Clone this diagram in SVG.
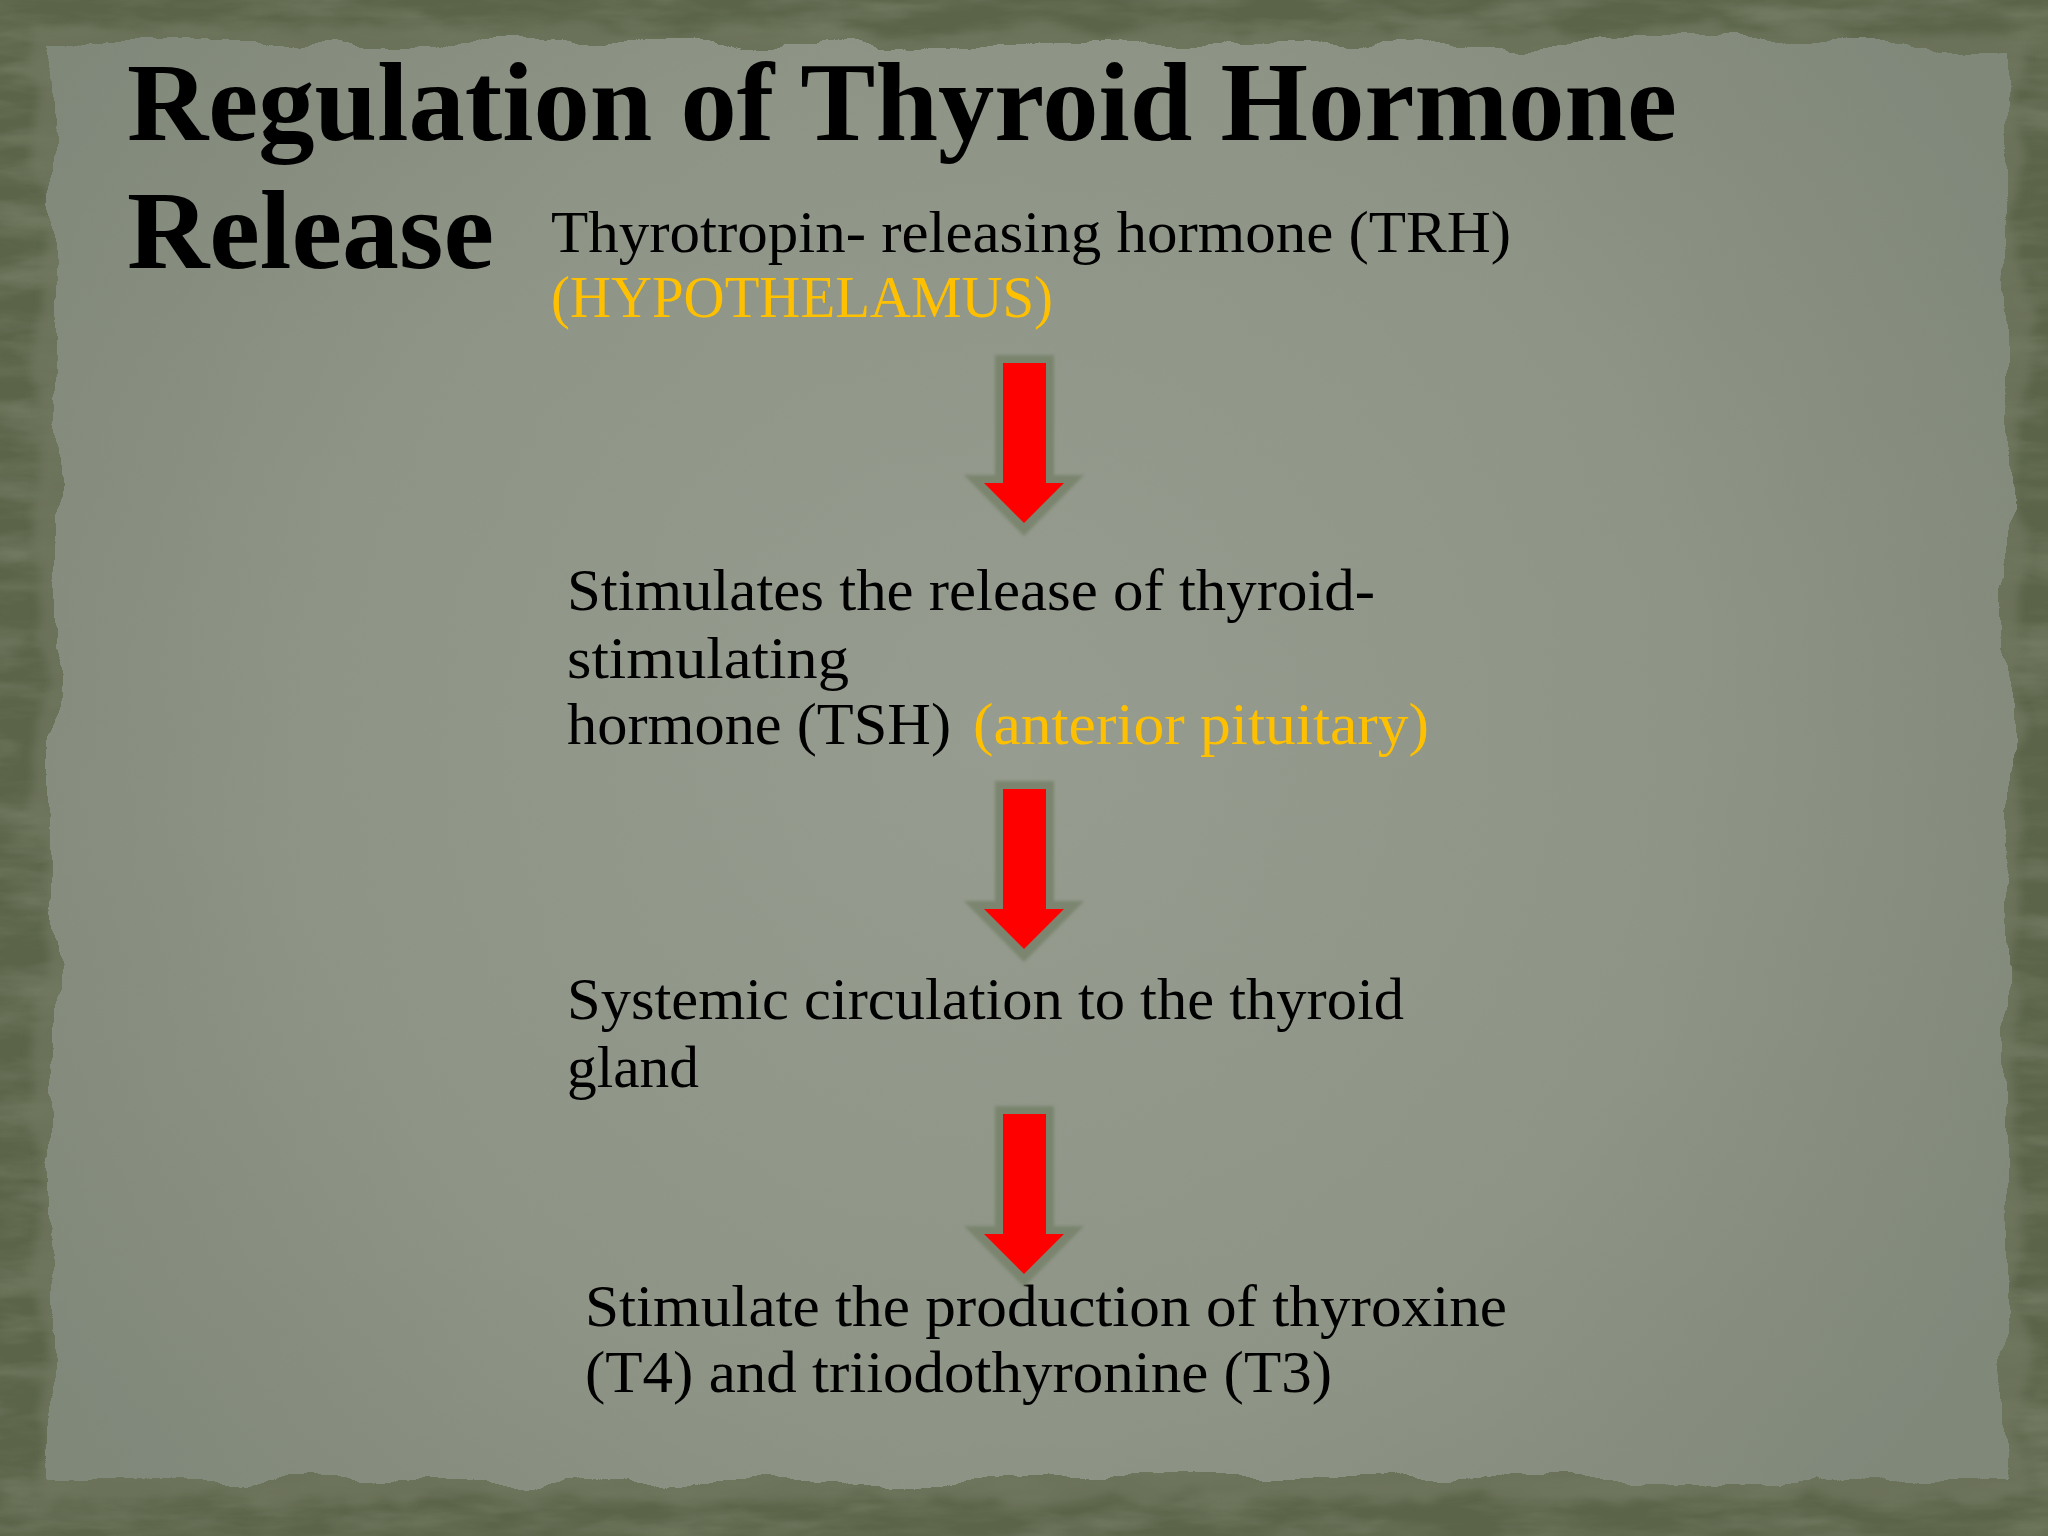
<svg xmlns="http://www.w3.org/2000/svg" width="2048" height="1536" viewBox="0 0 2048 1536">
<style>
.title{font-family:"Liberation Serif","DejaVu Serif",serif;font-weight:bold;font-size:112px;fill:#000}
.body{font-family:"Liberation Serif","DejaVu Serif",serif;font-size:60px;fill:#000}
.gold{fill:#ffc000}
.red{fill:#ff0000}
.glow{fill:#77826a;opacity:0.85}
</style>
<defs>
<filter id="torn" x="-3%" y="-3%" width="106%" height="106%">
<feTurbulence type="fractalNoise" baseFrequency="0.009" numOctaves="5" seed="4" result="n"/>
<feDisplacementMap in="SourceGraphic" in2="n" scale="36" xChannelSelector="R" yChannelSelector="G"/>
</filter>
<filter id="torn2" x="-3%" y="-3%" width="106%" height="106%">
<feTurbulence type="fractalNoise" baseFrequency="0.012" numOctaves="5" seed="11" result="n"/>
<feDisplacementMap in="SourceGraphic" in2="n" scale="44" xChannelSelector="R" yChannelSelector="G" result="d"/>
<feGaussianBlur in="d" stdDeviation="4"/>
</filter>
<filter id="grainDark" x="0" y="0" width="100%" height="100%">
<feTurbulence type="fractalNoise" baseFrequency="0.01 0.05" numOctaves="4" seed="2"/>
<feColorMatrix type="matrix" values="0 0 0 0 0.22  0 0 0 0 0.25  0 0 0 0 0.16  1.6 0 0 0 -0.7"/>
</filter>
<filter id="grainLight" x="0" y="0" width="100%" height="100%">
<feTurbulence type="fractalNoise" baseFrequency="0.008 0.03" numOctaves="4" seed="9"/>
<feColorMatrix type="matrix" values="0 0 0 0 0.43  0 0 0 0 0.46  0 0 0 0 0.37  0 1.4 0 0 -0.65"/>
</filter>
<filter id="blur1"><feGaussianBlur stdDeviation="1.5"/></filter>
<radialGradient id="paperGrad" cx="1000" cy="740" r="1150" gradientUnits="userSpaceOnUse">
<stop offset="0" stop-color="#969c8f"/>
<stop offset="0.6" stop-color="#8e9486"/>
<stop offset="1" stop-color="#80887a"/>
</radialGradient>
<g id="arrowShape">
<polygon class="glow" filter="url(#blur1)" points="995,-8 1054,-8 1054,112 1084,112 1024,173 964,112 995,112"/>
<polygon class="red" points="1003,0 1046,0 1046,120 1064,120 1024,160 984,120 1003,120"/>
</g>
</defs>

<g id="background">
<rect x="0" y="0" width="2048" height="1536" fill="#5b6449"/>
<rect x="0" y="0" width="2048" height="1536" filter="url(#grainLight)" opacity="0.45"/>
<rect x="0" y="0" width="2048" height="1536" filter="url(#grainDark)" opacity="0.45"/>
<rect x="40" y="30" width="1980" height="1470" fill="#6f775f" filter="url(#torn2)" opacity="0.75"/>
<rect x="52" y="44" width="1955" height="1436" fill="url(#paperGrad)" filter="url(#torn)"/>
</g>

<g id="title">
<text class="title" x="127" y="140" textLength="1550" lengthAdjust="spacingAndGlyphs">Regulation of Thyroid Hormone</text>
<text class="title" x="127" y="268" textLength="367" lengthAdjust="spacingAndGlyphs">Release</text>
</g>

<g id="node-trh">
<text class="body" x="551" y="252" textLength="960" lengthAdjust="spacingAndGlyphs">Thyrotropin- releasing hormone (TRH)</text>
<text class="body gold" x="551" y="317" textLength="502" lengthAdjust="spacingAndGlyphs">(HYPOTHELAMUS)</text>
</g>

<g id="node-tsh">
<text class="body" x="567" y="610" textLength="808" lengthAdjust="spacingAndGlyphs">Stimulates the release of thyroid-</text>
<text class="body" x="567" y="678" textLength="282" lengthAdjust="spacingAndGlyphs">stimulating</text>
<text class="body" x="567" y="744" textLength="384" lengthAdjust="spacingAndGlyphs">hormone (TSH)</text>
<text class="body gold" x="973" y="744" textLength="456" lengthAdjust="spacingAndGlyphs">(anterior pituitary)</text>
</g>

<g id="node-circulation">
<text class="body" x="567" y="1019" textLength="837" lengthAdjust="spacingAndGlyphs">Systemic circulation to the thyroid</text>
<text class="body" x="567" y="1087" textLength="132" lengthAdjust="spacingAndGlyphs">gland</text>
</g>

<g id="node-t4t3">
<text class="body" x="585" y="1326" textLength="922" lengthAdjust="spacingAndGlyphs">Stimulate the production of thyroxine</text>
<text class="body" x="585" y="1392" textLength="747" lengthAdjust="spacingAndGlyphs">(T4) and triiodothyronine (T3)</text>
</g>

<g id="connectors">
<use href="#arrowShape" transform="translate(0,363)"/>
<use href="#arrowShape" transform="translate(0,789)"/>
<use href="#arrowShape" transform="translate(0,1114)"/>
</g>
</svg>
